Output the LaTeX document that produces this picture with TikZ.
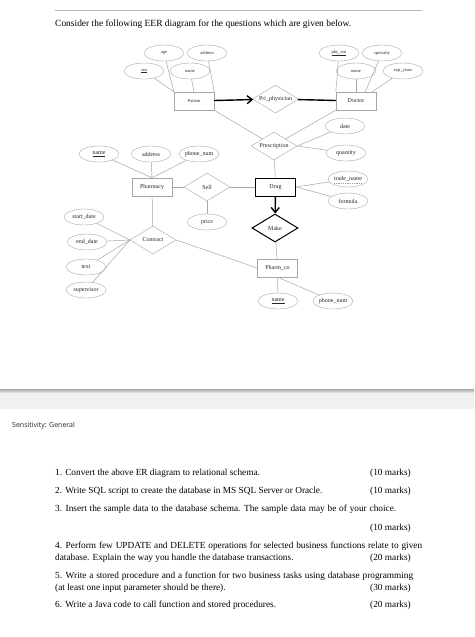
\documentclass[tikz,border=0pt]{standalone}
\usepackage{fontspec}
\setmainfont{Liberation Serif}
\newfontfamily\sensfont{Open Sans}
\usetikzlibrary{shapes.geometric, arrows.meta, positioning}

\begin{document}
\begin{tikzpicture}[
    x=1pt, y=-1pt,
    every node/.style={align=center, inner sep=0pt, text=black!85},
    attr/.style={draw=gray!70, ellipse, minimum width=40pt, minimum height=16pt, font=\fontsize{6}{7}\selectfont},
    entity/.style={draw=gray!70, minimum width=40pt, minimum height=18pt, font=\fontsize{6}{7}\selectfont},
    rel/.style={draw=gray!70, diamond, aspect=1.6, minimum width=46pt, minimum height=28pt, font=\fontsize{6}{7}\selectfont},
    smalltext/.style={font=\fontsize{4.5}{5}\selectfont},
    strong/.style={draw=black, line width=1pt},
    link/.style={draw=gray!70, line width=0.5pt},
    total/.style={draw=black, line width=1.4pt},
    question/.style={anchor=base west, font=\fontsize{9.3}{11}\selectfont, text=black},
    tight/.style={execute at begin node={\spaceskip=2.8pt\relax}}
]
    \useasboundingbox (0,0) rectangle (474,637);
    \fill[white] (0,0) rectangle (474,637);

    % Header
    \draw[gray!55, line width=1pt] (55,10) -- (422,10);
    \node[question, font=\fontsize{9.45}{11}\selectfont] (title) at (55,26.5) {Consider the following EER diagram for the questions which are given below.};

    % Patient
    \node[entity, smalltext] (patient) at (194,101) {Patient};
    \node[attr, smalltext] (ssn) at (144,71) {\underline{ssn}};
    \node[attr, smalltext] (age) at (164,53) {age};
    \node[attr, smalltext] (paddr) at (207,53) {address};
    \node[attr, smalltext] (pname) at (190,71) {name};

    % Doctor
    \node[entity] (doctor) at (356,101) {Doctor};
    \node[attr, smalltext] (physsn) at (339,53) {\underline{phy\_ssn}};
    \node[attr, smalltext] (spec) at (382,53) {specialty};
    \node[attr, smalltext] (dname) at (356,71) {name};
    \node[attr, smalltext] (expy) at (403,71) {exp\_years};

    % Relationships
    \node[rel] (pri) at (275.5,99) {Pri\_physician};
    \node[rel] (prescription) at (274,146) {Prescription};
    \node[attr] (date) at (345,126) {date};
    \node[attr] (quantity) at (346,153) {quantity};

    % Drug
    \node[entity, strong] (drug) at (275.5,187) {Drug};
    \node[attr] (tname) at (348,179) {trade\_name};
    \draw[gray!80, line width=0.4pt, dash pattern=on 1pt off 0.8pt] (334,183) -- (362,183);
    \node[attr] (formula) at (348,201) {formula};
    \node[rel, strong] (make) at (275,228) {Make};

    % Pharm_co
    \node[entity] (pharmco) at (277.5,268) {Pharm\_co};
    \node[attr] (cname) at (278,301) {\underline{name}};
    \node[attr] (cphone) at (333,301) {phone\_num};

    % Pharmacy
    \node[entity] (pharmacy) at (152,187) {Pharmacy};
    \node[attr] (phname) at (99,154) {\underline{name}};
    \node[attr] (phaddr) at (151,154) {address};
    \node[attr] (phphone) at (199,154) {phone\_num};
    \node[rel] (sell) at (207,187) {Sell};
    \node[attr] (price) at (207,222) {price};

    % Contract
    \node[rel] (contract) at (153,240) {Contract};
    \node[attr] (sdate) at (84,217) {start\_date};
    \node[attr] (edate) at (87,242) {end\_date};
    \node[attr] (text) at (86,267) {text};
    \node[attr] (superv) at (86,290) {supervisor};

    % Connections
    \foreach \i/\j in {ssn/patient.north west, age/patient.north west, pname/patient.north, paddr/patient.north east,
        physsn/doctor.north west, dname/doctor.north, spec/doctor.45, expy/doctor.30,
        patient.south east/prescription.north west, doctor.south west/prescription.north east,
        prescription.east/date, prescription.east/quantity, prescription/drug,
        drug.east/tname, drug.east/formula, sell/drug, pharmacy/sell, sell/price,
        phname/pharmacy.north, phaddr/pharmacy.north, phphone/pharmacy.north, pharmacy/contract,
        sdate/contract.west, edate/contract.west, text/contract.west, superv/contract.west,
        contract.east/pharmco.west, make/pharmco, pharmco.south/cname, pharmco.south/cphone} {
        \draw[link] (\i) -- (\j);
    }
    \draw[total, -{Straight Barb[length=5pt,width=8pt]}] (patient) -- (pri);
    \draw[total] (pri) -- (doctor);
    \draw[total, -{Straight Barb[length=5pt,width=8pt]}] (drug) -- (make);

    % Sensitivity band
    \fill[black!6] (0,390) rectangle (474,409);
    \shade[top color=black!35, bottom color=black!6] (0,389) rectangle (474,393);
    \node[anchor=base west, font=\sensfont\fontsize{7}{8}\selectfont, text=black!85] (sens) at (12,427) {Sensitivity: General};

    % Questions
    \node[question] (q1) at (55,475) {1. Convert the above ER diagram to relational schema.};
    \node[question] (m1) at (370,475) {(10 marks)};
    \node[question] (q2) at (55,493) {2. Write SQL script to create the database in MS SQL Server or Oracle.};
    \node[question] (m2) at (370,493) {(10 marks)};
    \node[question, tight] (q3) at (55,511) {3. Insert the sample data to the database schema. The sample data may be of your choice.};
    \node[question] (m3) at (370,530) {(10 marks)};
    \node[question, tight] (q4) at (55,548) {4. Perform few UPDATE and DELETE operations for selected business functions relate to given};
    \node[question] (q4b) at (55,560) {database. Explain the way you handle the database transactions.};
    \node[question] (m4) at (370,560) {(20 marks)};
    \node[question, tight] (q5) at (55,578) {5. Write a stored procedure and a function for two business tasks using database programming};
    \node[question] (q5b) at (55,590) {(at least one input parameter should be there).};
    \node[question] (m5) at (370,590) {(30 marks)};
    \node[question] (q6) at (55,607) {6. Write a Java code to call function and stored procedures.};
    \node[question] (m6) at (370,607) {(20 marks)};
\end{tikzpicture}
\end{document}
